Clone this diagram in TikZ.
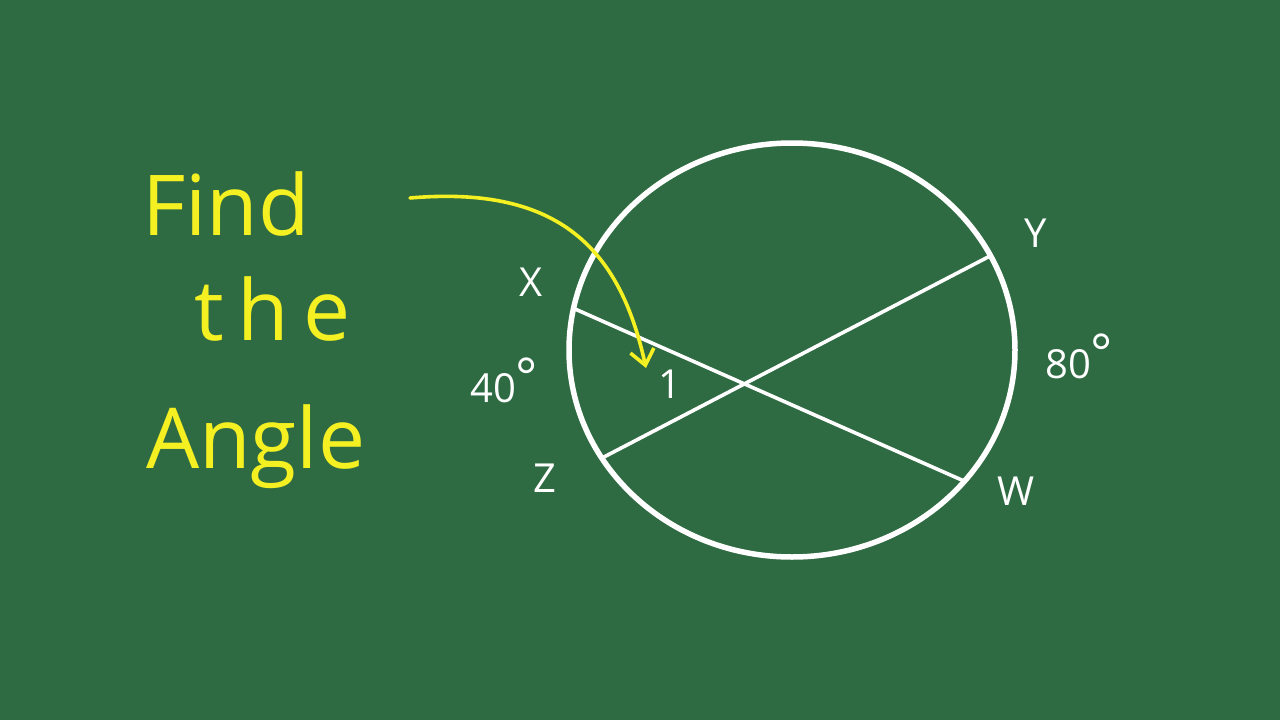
\documentclass[tikz,border=0pt]{standalone}
\usepackage{fontspec}
\setmainfont{Open Sans}
\usetikzlibrary{arrows.meta,shapes.geometric}
\definecolor{board}{RGB}{47,107,66}
\definecolor{chalkyellow}{RGB}{244,240,34}
\newcommand{\degsign}{\raisebox{7pt}{\fontsize{52}{52}\selectfont °}}
\tikzset{
  chalk/.style={draw=white,line width=3.6pt},
  rim/.style={draw=white,line width=5.5pt},
  title/.style={text=chalkyellow,anchor=base west,inner sep=0pt,font=\fontsize{84}{84}\selectfont},
  lbl/.style={text=white,inner sep=0pt,font=\fontsize{40}{40}\selectfont},
  pointer/.style={draw=chalkyellow,line width=3.6pt,line cap=round,-{Straight Barb[length=15pt,width=24pt,line width=3.6pt]}}
}
\begin{document}
\begin{tikzpicture}[x=1pt,y=-1pt]
\fill[board] (0,0) rectangle (1280,720);
\useasboundingbox (0,0) rectangle (1280,720);
% circle
\node[ellipse,rim,minimum width=446pt,minimum height=414pt,inner sep=0pt] (circ) at (792,350) {};
\coordinate (pX) at (575,309);
\coordinate (pW) at (964,481);
\coordinate (pZ) at (602,458);
\coordinate (pY) at (990,256);
\draw[chalk] (pX) -- (pW);
\draw[chalk] (pZ) -- (pY);
% labels
\node[lbl] (lX) at (531,282) {X};
\node[lbl] (lY) at (1036,233) {Y};
\node[lbl] (lZ) at (545,478) {Z};
\node[lbl] (lW) at (1016,491) {W};
\node[lbl,anchor=base west] (l40) at (470,402) {40\degsign};
\node[lbl,anchor=base west] (l80) at (1045,378) {80\degsign};
\node[lbl,anchor=base west] (l1) at (658,398) {1};
% title
\node[title] (t1) at (142,235) {Find};
\node[title] (t2) at (194,340) {t\kern14pt h\kern14pt e};
\node[title] (t3) at (146,468) {Angle};
% arrow
\coordinate (aS) at (410,198);
\coordinate (aE) at (646,368);
\draw[pointer] (aS) .. controls (560,185) and (620,250) .. (aE);
\end{tikzpicture}
\end{document}
